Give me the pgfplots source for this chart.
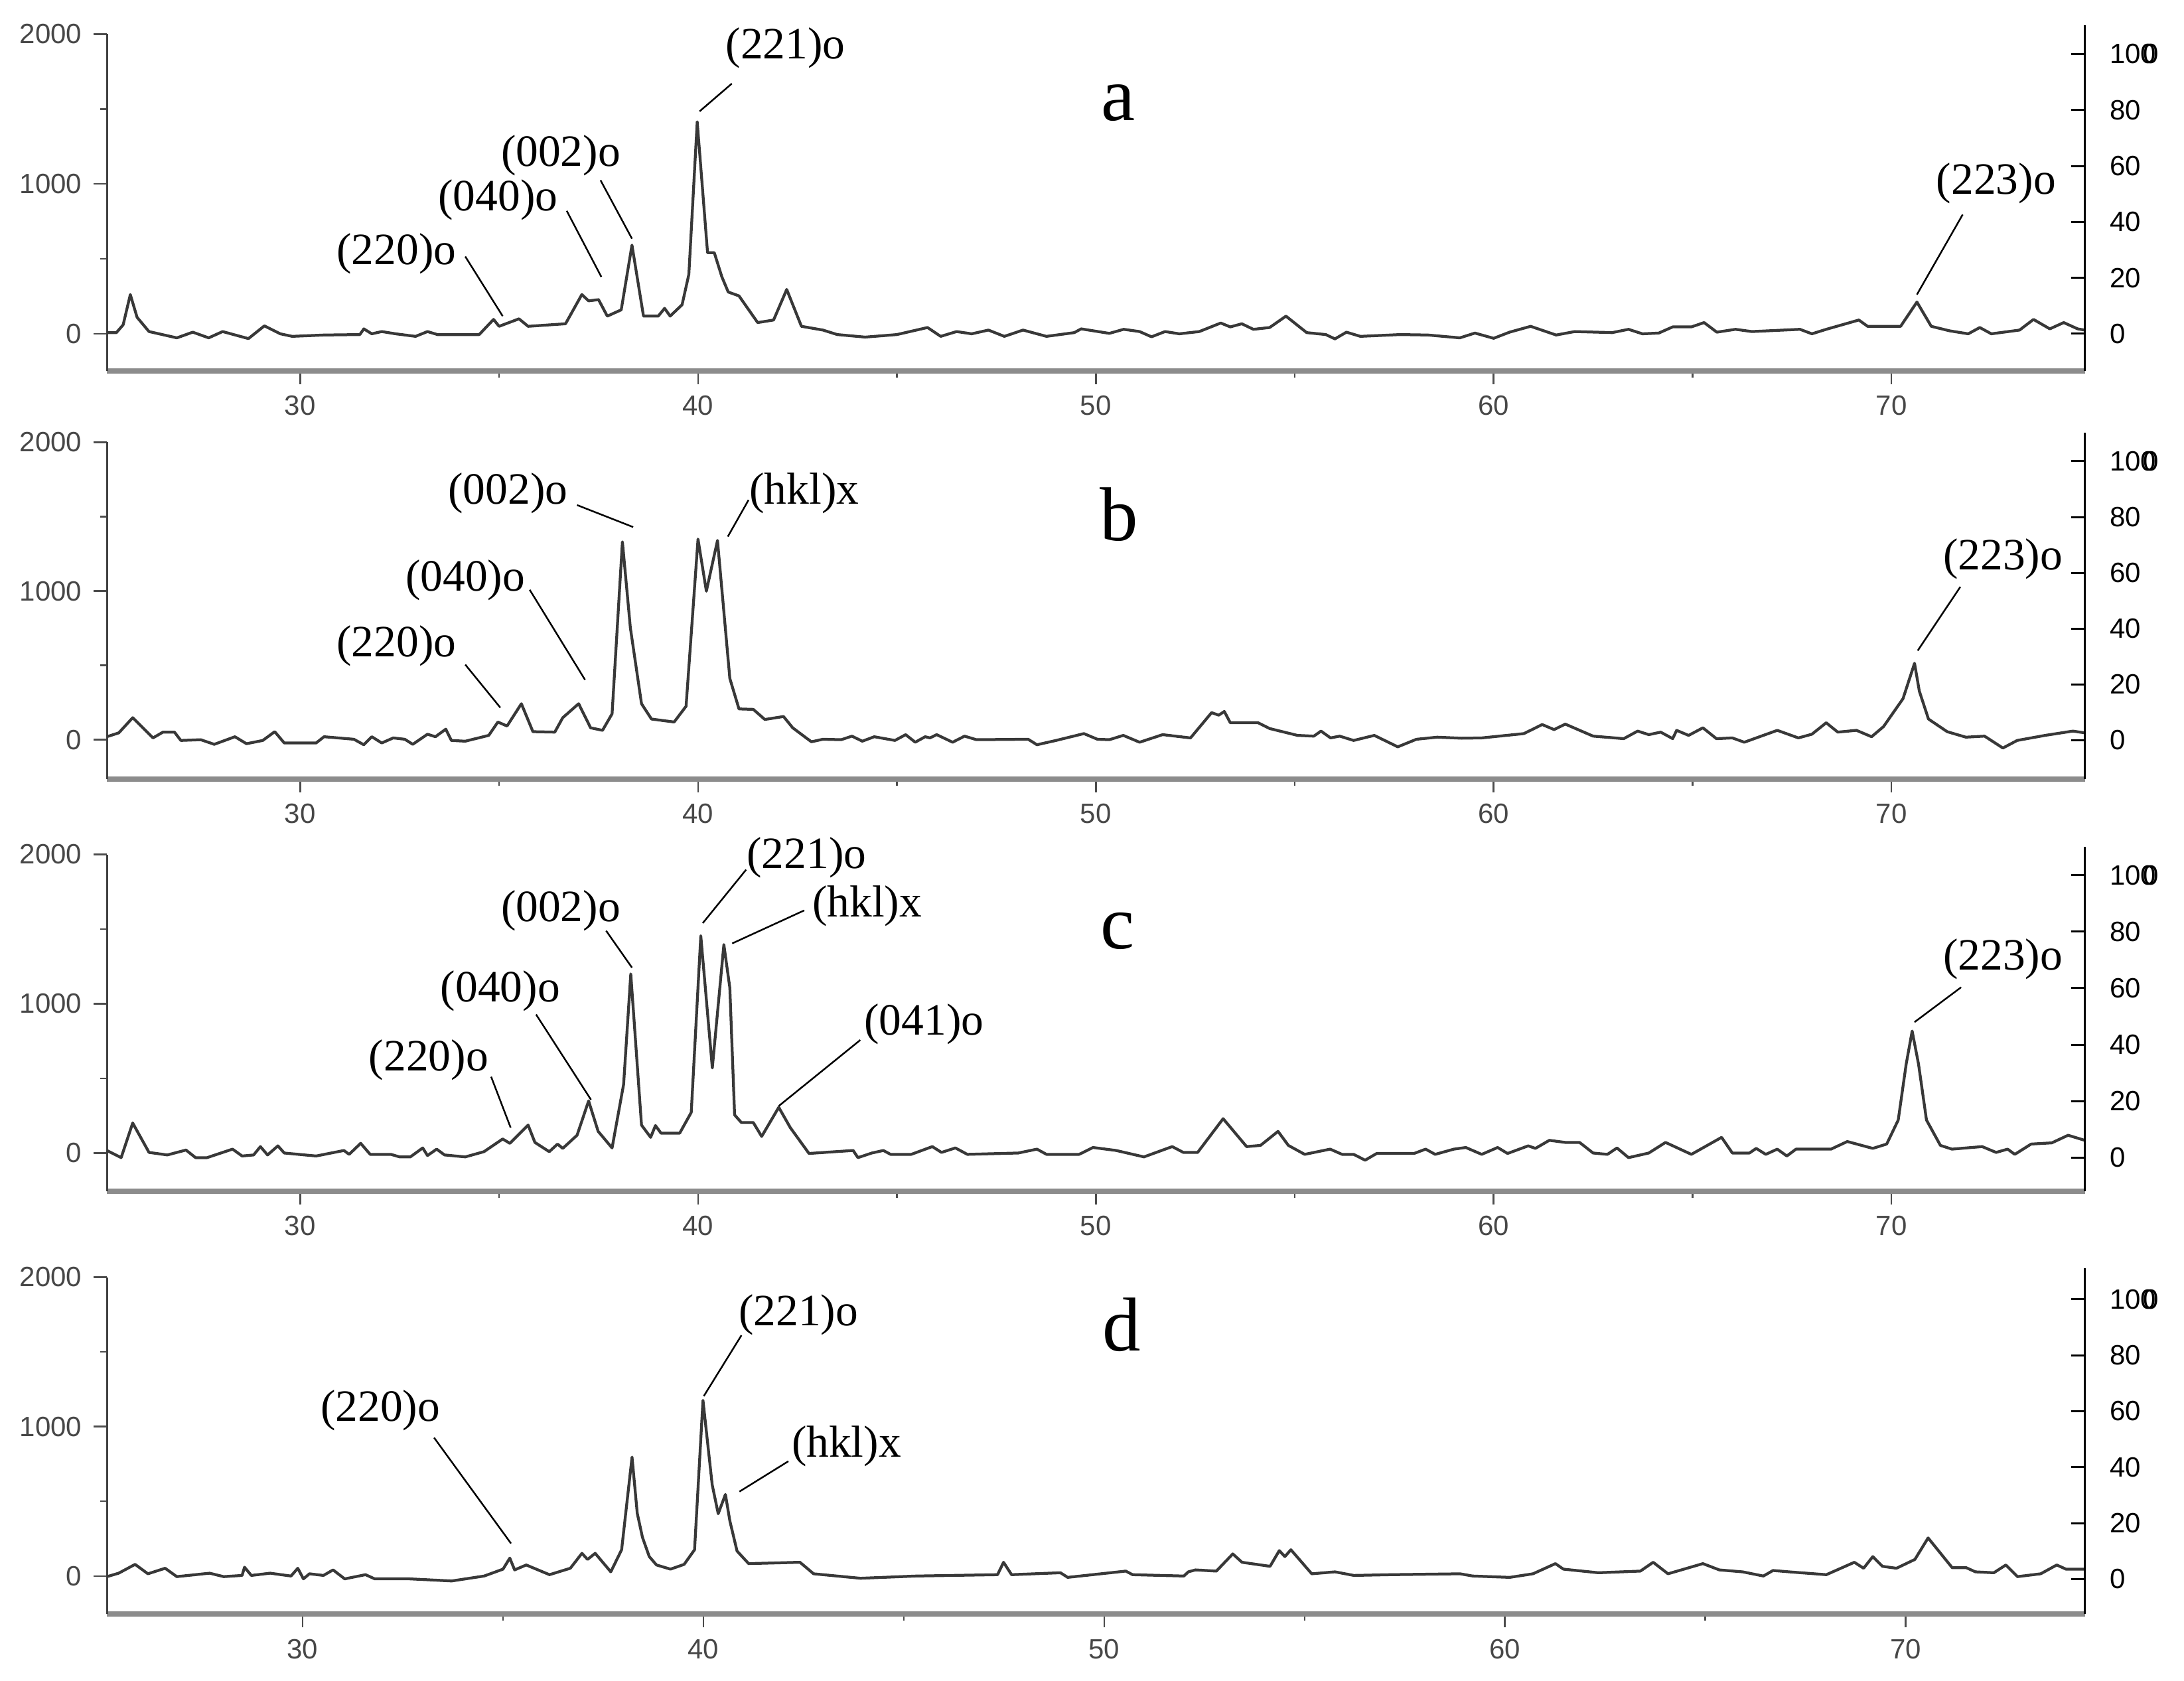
\documentclass[border=0pt]{standalone}
\usepackage{fontspec}
\setmainfont{Liberation Serif}
\newfontfamily\tickfont{Liberation Sans}
\usepackage{pgfplots}
\pgfplotsset{compat=1.18}
\pgfplotsset{
  panel/.style={anchor=south west, scale only axis, width=596.1pt, height=101.5pt,
    axis x line=bottom, axis y line=left,
    x axis line style={-, draw=black!45, line width=1.6pt},
    y axis line style={-, draw=black!75, line width=0.6pt},
    xtick={30,40,50,60,70}, minor xtick={35,45,55,65},
    ytick={0,1000,2000}, minor ytick={500,1500},
    tick align=outside, major tick length=4pt, minor tick length=2pt,
    tick style={black!70, line width=0.5pt},
    ticklabel style={font=\tickfont\fontsize{8.4}{10}\selectfont, text=black!72},
    clip=false,
    /pgf/number format/1000 sep={},
    /pgf/number format/assume math mode=true},
  rightax/.style={anchor=south west, scale only axis, width=596.1pt,
    hide x axis, axis y line=right,
    y axis line style={-, draw=black, line width=0.6pt},
    ytick={0,20,40,60,80,100},
    yticklabels={0,20,40,60,80,{10\rlap{0}\hspace{0.08em}0}},
    tick align=inside, major tick length=4.2pt,
    ytick style={black, line width=0.6pt},
    yticklabel style={font=\tickfont\fontsize{8.4}{10}\selectfont, text=black, xshift=4pt}},
  curve/.style={black!78, line width=0.85pt, line join=round, no marks},
}
\tikzset{
  ann/.style={font=\fontsize{13.5}{15}\selectfont, anchor=base, inner sep=0pt},
  big/.style={font=\fontsize{23}{26}\selectfont, anchor=base, inner sep=0pt},
  lead/.style={black, line width=0.5pt},
}
\begin{document}
\begin{tikzpicture}[x=1pt,y=1pt]
\path[use as bounding box] (0,0) rectangle (658.2,506.4);
% ---------------- panel a
\begin{axis}[panel, at={(32.2pt,394.6pt)}, xmin=25.14, xmax=74.86, ymin=-248, ymax=2000]
\addplot[curve] coordinates {
(25.14,8) (25.38,8) (25.55,60) (25.73,262) (25.9,110) (26.2,15) (26.9,-27) (27.3,11) (27.7,-27) (28.05,15) (28.7,-32) (29.1,53) (29.5,0) (29.8,-17) (30.6,-8) (31.5,-5) (31.6,33) (31.8,0) (32.05,15) (32.4,0) (32.9,-17) (33.2,15) (33.45,-5) (34.5,-5) (34.86,96) (35.0,50) (35.5,100) (35.73,50) (36.67,67) (37.08,262) (37.25,220) (37.5,228) (37.72,118) (38.07,160) (38.34,592) (38.63,118) (39.0,118) (39.16,170) (39.3,118) (39.6,194) (39.77,397) (39.98,1415) (40.24,541) (40.41,541) (40.6,380) (40.76,279) (41.03,253) (41.5,75) (41.9,92) (42.23,296) (42.6,50) (43.14,25) (43.5,-5) (44.2,-22) (45.0,-5) (45.77,42) (46.1,-17) (46.5,15) (46.88,0) (47.3,25) (47.7,-17) (48.17,25) (48.76,-17) (49.46,8) (49.63,33) (50.34,3) (50.7,30) (51.1,15) (51.4,-20) (51.74,15) (52.1,0) (52.6,15) (53.14,72) (53.38,46) (53.67,67) (53.96,30) (54.37,42) (54.78,118) (55.3,8) (55.78,-5) (56.01,-34) (56.3,11) (56.65,-17) (57.65,-5) (58.35,-8) (59.15,-27) (59.53,5) (60.0,-30) (60.4,11) (60.93,50) (61.57,-8) (62.04,15) (62.98,8) (63.39,30) (63.74,0) (64.15,5) (64.5,46) (64.97,46) (65.29,75) (65.61,11) (66.08,30) (66.49,15) (67.7,30) (68.0,0) (68.36,30) (69.18,92) (69.4,50) (70.23,50) (70.64,212) (71.0,50) (71.46,20) (71.93,0) (72.22,42) (72.51,0) (73.22,25) (73.57,96) (73.98,33) (74.33,75) (74.68,33) (74.86,25)
};
\node[ann] at (axis cs:32.42,465) {(220)o};
\draw[lead] (axis cs:34.15,516) -- (axis cs:35.09,118);
\node[ann] at (axis cs:34.97,821) {(040)o};
\draw[lead] (axis cs:36.70,821) -- (axis cs:37.57,380);
\node[ann] at (axis cs:36.55,1118) {(002)o};
\draw[lead] (axis cs:37.55,1025) -- (axis cs:38.34,635);
\node[ann] at (axis cs:42.2,1836) {(221)o};
\draw[lead] (axis cs:40.04,1485) -- (axis cs:40.85,1670);
\node[ann] at (axis cs:72.63,932) {(223)o};
\draw[lead] (axis cs:71.79,796) -- (axis cs:70.64,262);
\node[big] at (axis cs:50.57,1423) {a};
\end{axis}
\begin{axis}[rightax, at={(32.2pt,394.6pt)}, height=104.2pt, xmin=25.14, xmax=74.86, ymin=-13.3, ymax=110.3]
\addplot[draw=none] coordinates {(30,0)};
\end{axis}
% ---------------- panel b
\begin{axis}[panel, at={(32.2pt,271.6pt)}, xmin=25.14, xmax=74.86, ymin=-265, ymax=2000]
\addplot[curve] coordinates {
(25.14,20) (25.44,46) (25.79,148) (26.3,12) (26.55,51) (26.84,51) (27.0,-5) (27.5,0) (27.84,-31) (28.36,20) (28.65,-27) (29.06,-5) (29.36,54) (29.6,-22) (30.4,-22) (30.6,20) (31.35,3) (31.6,-34) (31.8,20) (32.05,-22) (32.34,12) (32.63,3) (32.83,-31) (33.2,37) (33.4,20) (33.66,71) (33.8,-5) (34.15,-10) (34.74,29) (34.97,119) (35.2,92) (35.56,242) (35.85,54) (36.4,51) (36.6,148) (37.0,242) (37.3,80) (37.6,63) (37.84,174) (38.1,1331) (38.3,752) (38.58,242) (38.83,139) (39.4,119) (39.7,225) (40.0,1349) (40.21,999) (40.49,1340) (40.8,412) (41.03,207) (41.39,204) (41.68,136) (42.15,156) (42.38,80) (42.85,-14) (43.14,3) (43.6,0) (43.87,24) (44.13,-10) (44.43,20) (44.95,-5) (45.22,34) (45.46,-17) (45.71,20) (45.83,12) (46.0,34) (46.4,-17) (46.7,24) (47.0,0) (48.3,3) (48.52,-34) (49.0,-5) (49.7,41) (50.04,3) (50.34,0) (50.69,29) (51.1,-17) (51.68,34) (52.38,12) (52.91,182) (53.09,165) (53.23,190) (53.38,114) (54.08,114) (54.37,75) (55.07,29) (55.48,24) (55.66,58) (55.9,12) (56.13,24) (56.48,-5) (57.0,29) (57.59,-48) (58.06,3) (58.58,17) (59.2,10) (59.7,12) (60.76,41) (61.22,102) (61.52,68) (61.8,105) (62.5,24) (63.27,7) (63.62,58) (63.9,34) (64.2,51) (64.5,7) (64.6,63) (64.9,29) (65.26,80) (65.6,7) (66.0,12) (66.3,-17) (67.13,63) (67.66,12) (68.0,37) (68.36,114) (68.65,51) (69.12,63) (69.5,20) (69.8,88) (70.29,276) (70.58,514) (70.7,327) (70.93,139) (71.4,54) (71.87,17) (72.34,24) (72.8,-56) (73.16,-5) (73.86,29) (74.56,58) (74.86,46)
};
\node[ann] at (axis cs:32.42,557) {(220)o};
\draw[lead] (axis cs:34.15,505) -- (axis cs:35.03,216);
\node[ann] at (axis cs:34.15,999) {(040)o};
\draw[lead] (axis cs:35.77,1008) -- (axis cs:37.16,403);
\node[ann] at (axis cs:35.22,1587) {(002)o};
\draw[lead] (axis cs:36.96,1578) -- (axis cs:38.37,1430);
\node[ann] at (axis cs:42.67,1587) {(hkl)x};
\draw[lead] (axis cs:41.27,1612) -- (axis cs:40.75,1366);
\node[ann] at (axis cs:72.8,1144) {(223)o};
\draw[lead] (axis cs:71.73,1028) -- (axis cs:70.66,599);
\node[big] at (axis cs:50.59,1340) {b};
\end{axis}
\begin{axis}[rightax, at={(32.2pt,271.6pt)}, height=104.3pt, xmin=25.14, xmax=74.86, ymin=-13.9, ymax=110.1]
\addplot[draw=none] coordinates {(30,0)};
\end{axis}
% ---------------- panel c
\begin{axis}[panel, at={(32.2pt,147.4pt)}, xmin=25.14, xmax=74.86, ymin=-256, ymax=2000]
\addplot[curve] coordinates {
(25.14,17) (25.5,-31) (25.79,201) (26.2,4) (26.66,-13) (27.13,20) (27.37,-31) (27.66,-31) (28.3,26) (28.54,-20) (28.83,-13) (29.0,43) (29.18,-13) (29.44,48) (29.6,0) (30.4,-20) (31.1,17) (31.23,-9) (31.52,65) (31.76,-9) (32.28,-9) (32.5,-26) (32.77,-26) (33.08,34) (33.2,-17) (33.43,26) (33.63,-13) (34.15,-26) (34.62,9) (35.09,94) (35.27,65) (35.73,187) (35.9,71) (36.26,9) (36.47,60) (36.6,31) (36.96,119) (37.25,349) (37.49,145) (37.84,34) (38.13,460) (38.31,1200) (38.58,187) (38.81,105) (38.93,184) (39.07,133) (39.54,133) (39.83,272) (40.07,1455) (40.36,570) (40.65,1396) (40.8,1106) (40.92,255) (41.09,204) (41.39,204) (41.6,111) (42.03,306) (42.32,170) (42.79,-3) (43.9,17) (44.02,-31) (44.37,0) (44.66,17) (44.84,-9) (45.36,-9) (45.89,43) (46.12,4) (46.47,34) (46.77,-9) (48.05,0) (48.52,26) (48.76,-9) (49.58,-9) (49.93,37) (50.51,17) (51.21,-26) (51.92,43) (52.2,4) (52.56,4) (53.2,230) (53.79,43) (54.14,51) (54.58,145) (54.84,51) (55.25,-9) (55.89,26) (56.19,-9) (56.48,-9) (56.77,-48) (57.06,-3) (58.0,-3) (58.29,26) (58.53,-9) (59.0,26) (59.3,37) (59.7,-9) (60.1,37) (60.35,-3) (60.87,48) (61.05,31) (61.4,85) (61.8,71) (62.16,71) (62.5,0) (62.86,-9) (63.1,34) (63.39,-31) (63.9,0) (64.32,71) (64.97,-9) (65.73,105) (66.0,0) (66.43,0) (66.6,31) (66.84,-9) (67.13,26) (67.37,-20) (67.6,26) (68.48,26) (68.89,77) (69.53,31) (69.88,60) (70.17,221) (70.37,596) (70.52,817) (70.68,596) (70.88,221) (71.23,51) (71.52,26) (72.28,43) (72.63,4) (72.92,26) (73.1,-9) (73.51,60) (74.03,68) (74.44,119) (74.86,85)
};
\node[ann] at (axis cs:33.23,553) {(220)o};
\draw[lead] (axis cs:34.8,511) -- (axis cs:35.29,170);
\node[ann] at (axis cs:35.03,1013) {(040)o};
\draw[lead] (axis cs:35.93,928) -- (axis cs:37.31,357);
\node[ann] at (axis cs:36.55,1549) {(002)o};
\draw[lead] (axis cs:37.69,1489) -- (axis cs:38.34,1242);
\node[ann] at (axis cs:42.73,1906) {(221)o};
\draw[lead] (axis cs:40.12,1540) -- (axis cs:41.21,1898);
\node[ann] at (axis cs:44.25,1583) {(hkl)x};
\draw[lead] (axis cs:42.67,1625) -- (axis cs:40.86,1404);
\node[ann] at (axis cs:45.68,791) {(041)o};
\draw[lead] (axis cs:44.08,757) -- (axis cs:42.03,315);
\node[ann] at (axis cs:72.8,1225) {(223)o};
\draw[lead] (axis cs:71.75,1110) -- (axis cs:70.58,877);
\node[big] at (axis cs:50.55,1370) {c};
\end{axis}
\begin{axis}[rightax, at={(32.2pt,147.4pt)}, height=103.7pt, xmin=25.14, xmax=74.86, ymin=-11.9, ymax=109.9]
\addplot[draw=none] coordinates {(30,0)};
\end{axis}
% ---------------- panel d
\begin{axis}[panel, at={(32.2pt,20.0pt)}, xmin=25.115, xmax=74.47, ymin=-254, ymax=2000]
\addplot[curve] coordinates {
(25.12,-4) (25.41,19) (25.82,78) (26.14,15) (26.57,52) (26.86,-4) (27.68,19) (28.03,-4) (28.49,4) (28.55,59) (28.72,4) (29.19,19) (29.71,0) (29.88,52) (30.02,-19) (30.17,15) (30.52,4) (30.76,41) (31.05,-19) (31.57,9) (31.8,-19) (32.67,-19) (33.72,-33) (34.53,0) (35.0,46) (35.17,120) (35.29,41) (35.58,74) (36.16,9) (36.68,52) (36.97,152) (37.11,111) (37.3,152) (37.69,28) (37.96,176) (38.22,796) (38.35,420) (38.48,259) (38.65,130) (38.83,74) (39.18,46) (39.52,78) (39.78,176) (39.99,1176) (40.22,611) (40.37,417) (40.55,546) (40.66,370) (40.84,167) (41.13,83) (42.41,92) (42.75,15) (43.92,-15) (45.31,0) (47.34,9) (47.49,92) (47.69,9) (48.91,22) (49.09,-9) (50.54,33) (50.71,9) (51.99,0) (52.1,28) (52.28,41) (52.8,33) (53.21,148) (53.44,92) (54.14,65) (54.37,170) (54.51,130) (54.66,176) (55.18,15) (55.76,28) (56.23,4) (57.16,9) (58.88,15) (59.2,0) (60.12,-9) (60.7,15) (61.26,83) (61.46,46) (62.33,22) (63.38,33) (63.7,92) (64.07,15) (64.94,83) (65.35,41) (65.93,28) (66.45,0) (66.69,37) (67.09,28) (68.02,9) (68.72,92) (68.95,52) (69.18,130) (69.42,65) (69.77,52) (70.23,111) (70.56,255) (71.16,56) (71.51,56) (71.74,28) (72.2,22) (72.5,74) (72.79,-4) (73.37,15) (73.77,74) (74.0,46) (74.47,46)
};
\node[ann] at (axis cs:31.94,1037) {(220)o};
\draw[lead] (axis cs:33.28,926) -- (axis cs:35.2,218);
\node[ann] at (axis cs:42.37,1676) {(221)o};
\draw[lead] (axis cs:40.01,1204) -- (axis cs:40.95,1611);
\node[ann] at (axis cs:43.57,796) {(hkl)x};
\draw[lead] (axis cs:42.12,768) -- (axis cs:40.9,565);
\node[big] at (axis cs:50.44,1509) {d};
\end{axis}
\begin{axis}[rightax, at={(32.2pt,20.0pt)}, height=104.2pt, xmin=25.115, xmax=74.47, ymin=-12.5, ymax=111.1]
\addplot[draw=none] coordinates {(30,0)};
\end{axis}
\end{tikzpicture}
\end{document}
